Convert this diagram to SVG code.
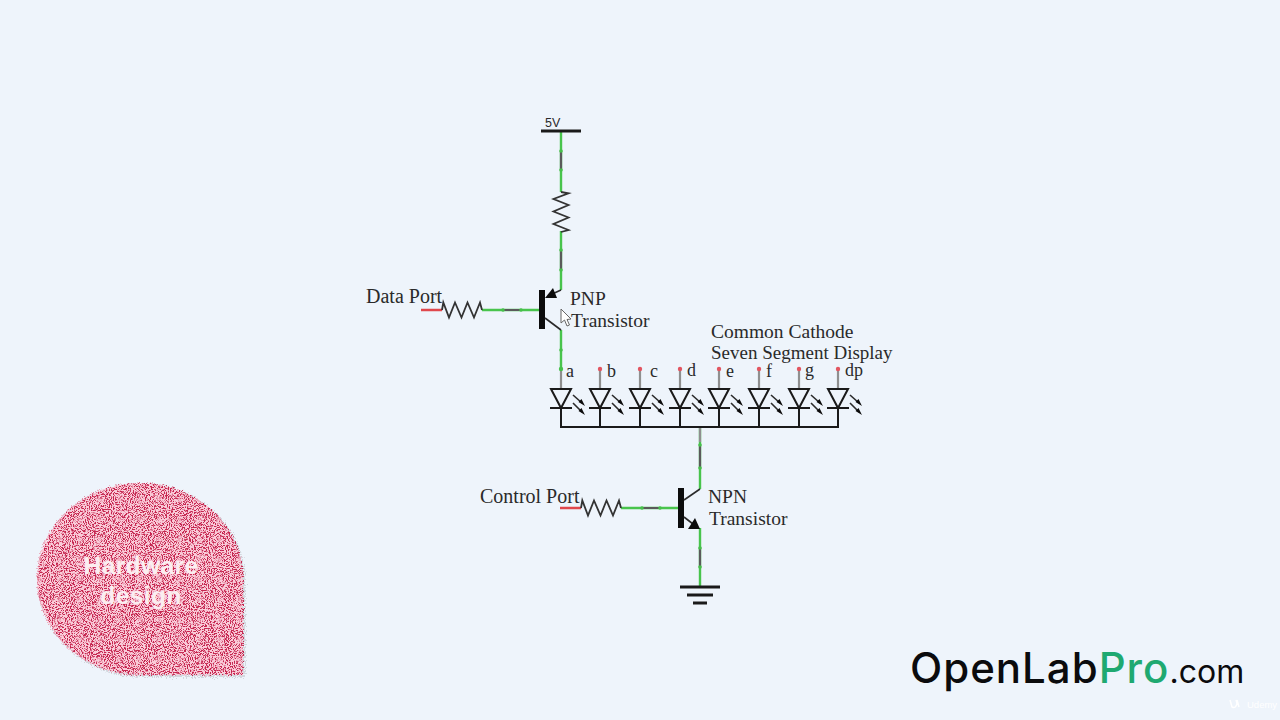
<svg xmlns="http://www.w3.org/2000/svg" width="1280" height="720" viewBox="0 0 1280 720">
<style>
.sym{fill:none;stroke:#333;stroke-width:1.8}
.blk{fill:none;stroke:#1a1a1a;stroke-width:2}
.thick{stroke-width:2.800px}
.arrow{fill:none;stroke:#2a2a2a;stroke-width:1.600px}
.fill{fill:#0c0c0c}
.green{fill:none;stroke:#48c44c;stroke-width:2.400}
.gray{fill:none;stroke:#5a5a5a;stroke-width:2.200}
.lead{fill:none;stroke:#8f8f8f;stroke-width:2.200}
.red{fill:none;stroke:#e0474c;stroke-width:2.400}
.dotg{fill:#46c04a}
.dotr{fill:#e25560}
text{font-family:"Liberation Serif","Times New Roman",serif;font-size:19.500px;fill:#2a2a2a}
.pin{font-size:18px}
.logo{font-family:Inter,"Noto Sans",sans-serif;font-size:42px;fill:#0b0b0d;font-weight:500;letter-spacing:1px}
.badge{font-family:"Liberation Sans",Arial,sans-serif;font-size:24.500px;font-weight:700;fill:#fbeef1;text-anchor:middle;letter-spacing:.4px}
</style>
<defs>
<filter id="grain" x="-6%" y="-6%" width="112%" height="112%" color-interpolation-filters="sRGB">
<feTurbulence type="fractalNoise" baseFrequency="0.95" numOctaves="2" seed="4" result="n"/>
<feDisplacementMap in="SourceGraphic" in2="n" scale="6" xChannelSelector="R" yChannelSelector="G" result="d"/>
<feColorMatrix in="n" type="matrix" values="0 0 0 0 0.98 0 0 0 0 0.80 0 0 0 0 0.85 7 0 0 0 -2.700" result="s"/>
<feComposite in="s" in2="d" operator="in" result="speck"/>
<feMerge result="m"><feMergeNode in="d"/><feMergeNode in="speck"/></feMerge>
<feGaussianBlur in="m" stdDeviation="0.550"/>
</filter>
<filter id="fuzz" x="-6%" y="-6%" width="112%" height="112%" color-interpolation-filters="sRGB">
<feTurbulence type="fractalNoise" baseFrequency="0.9" numOctaves="2" seed="9" result="n"/>
<feDisplacementMap in="SourceGraphic" in2="n" scale="10" xChannelSelector="G" yChannelSelector="R"/>
</filter>
<g id="led">
<path class="lead" d="M0 -39V-19"/>
<path class="blk" d="M-10 -19H10L0 0Z"/>
<path class="blk" d="M-11 0H11M0 0V19"/>
<path class="arrow" d="M12 -13L21 -5M12 -5L21 4"/>
<path class="fill" d="M24 -2L17.500 -6L20.500 -9ZM24 7L17.500 3L20.500 0Z"/>
</g>
<path id="rh" class="sym" d="M0 0L1.300 -7.500L7 7.500L13 -7.500L19.500 7.500L25.500 -7.500L32 7.500L38 -7.500L40 0"/>
</defs>
<rect width="1280" height="720" fill="#eef4fb"/>

<g id="connectors">
<path class="green" d="M561 131V192M561 231V290M561 330V368M700 489V427M700 528V586M482 310H540M621 508H679"/>
<path class="gray" d="M561 151V170M561 250V270M700 446V468M700 548V567M503 310H521M642 508H660"/>
<path class="lead" d="M700 428V442"/>
<path class="red" d="M421 310H442M560 508H581"/>
<path class="blk" d="M560 427H839"/>
<g class="dotg"><circle cx="561" cy="151" r="1.800"/><circle cx="561" cy="170" r="1.800"/><circle cx="561" cy="250" r="1.800"/><circle cx="561" cy="270" r="1.800"/><circle cx="561" cy="350" r="1.800"/><circle cx="503" cy="310" r="1.800"/><circle cx="521" cy="310" r="1.800"/><circle cx="642" cy="508" r="1.800"/><circle cx="660" cy="508" r="1.800"/><circle cx="700" cy="445" r="1.800"/><circle cx="700" cy="468" r="1.800"/><circle cx="700" cy="548" r="1.800"/><circle cx="700" cy="567" r="1.800"/></g>
</g>

<g id="vcc">
<path class="blk thick" d="M541 131H581"/>
<text x="545" y="127" style="font-family:'Liberation Sans',Arial,sans-serif;font-size:12.500px">5V</text>
</g>
<g id="r-pullup"><use href="#rh" transform="translate(561 192) rotate(90)"/></g>
<g id="r-data"><use href="#rh" transform="translate(442 310)"/></g>
<g id="r-control"><use href="#rh" transform="translate(581 508)"/></g>
<g id="label-data"><text x="366" y="303" style="font-size:20px">Data Port</text></g>
<g id="label-control"><text x="480" y="503" style="font-size:20px">Control Port</text></g>

<g id="pnp">
<rect class="fill" x="539" y="290" width="6" height="39"/>
<path class="arrow" d="M561 290L550 295M545 318L561 330"/>
<path class="fill" d="M545 298L553 288L557 298Z"/>
<text x="570" y="305">PNP</text>
<text x="571" y="327">Transistor</text>
</g>
<g id="npn">
<rect class="fill" x="678" y="488" width="6" height="40"/>
<path class="arrow" d="M684 500L700 489M684 517L693 524"/>
<path class="fill" d="M700 529L688 529L695 518Z"/>
<text x="708" y="503">NPN</text>
<text x="709" y="525">Transistor</text>
</g>
<g id="ground"><path class="blk thick" d="M680 587H720M687 595H713M693 603H707"/></g>

<g id="display">
<text x="711" y="338">Common Cathode</text>
<text x="711" y="359" style="font-size:19px">Seven Segment Display</text>
<g id="seg-a"><use href="#led" x="561" y="408"/><circle class="dotg" cx="561" cy="369" r="2.200"/><text class="pin" x="566" y="377">a</text></g>
<g id="seg-b"><use href="#led" x="600" y="408"/><circle class="dotr" cx="600" cy="369" r="2.200"/><text class="pin" x="607" y="377">b</text></g>
<g id="seg-c"><use href="#led" x="640" y="408"/><circle class="dotr" cx="640" cy="369" r="2.200"/><text class="pin" x="650" y="377">c</text></g>
<g id="seg-d"><use href="#led" x="680" y="408"/><circle class="dotr" cx="680" cy="369" r="2.200"/><text class="pin" x="687" y="376">d</text></g>
<g id="seg-e"><use href="#led" x="719" y="408"/><circle class="dotr" cx="719" cy="369" r="2.200"/><text class="pin" x="726" y="377">e</text></g>
<g id="seg-f"><use href="#led" x="759" y="408"/><circle class="dotr" cx="759" cy="369" r="2.200"/><text class="pin" x="766" y="377">f</text></g>
<g id="seg-g"><use href="#led" x="799" y="408"/><circle class="dotr" cx="799" cy="369" r="2.200"/><text class="pin" x="805" y="376">g</text></g>
<g id="seg-dp"><use href="#led" x="838" y="408"/><circle class="dotr" cx="838" cy="369" r="2.200"/><text class="pin" x="845" y="376">dp</text></g>
</g>

<g id="cursor"><path d="M561 309V323L564.500 320L567 326L569.500 325L567 319.500L571 319Z" fill="#fff" stroke="#666" stroke-width="1"/></g>

<g id="badge">
<path d="M245 677H140A103 96 0 1 1 245 581Z" fill="#b9bcc2" opacity=".5" filter="url(#fuzz)"/>
<path d="M243 675H140A103 96 0 1 1 243 579Z" fill="#c5254f" filter="url(#grain)"/>
<text class="badge" x="141" y="574">Hardware</text>
<text class="badge" x="141" y="604">design</text>
</g>

<g id="logo">
<text class="logo" x="910" y="683">OpenLab<tspan fill="#1fa971">Pro</tspan><tspan font-size="32" font-weight="400" letter-spacing="0">.com</tspan></text>
<path d="M1230 700L1232 707Q1236 709 1237 703L1236 700M1237 700L1239 707" fill="none" stroke="#fff" stroke-width="1.500"/>
<text x="1247" y="708" style="font-family:'Liberation Sans',Arial,sans-serif;font-size:9.500px;fill:#ffffff">Udemy</text>
</g>
</svg>
